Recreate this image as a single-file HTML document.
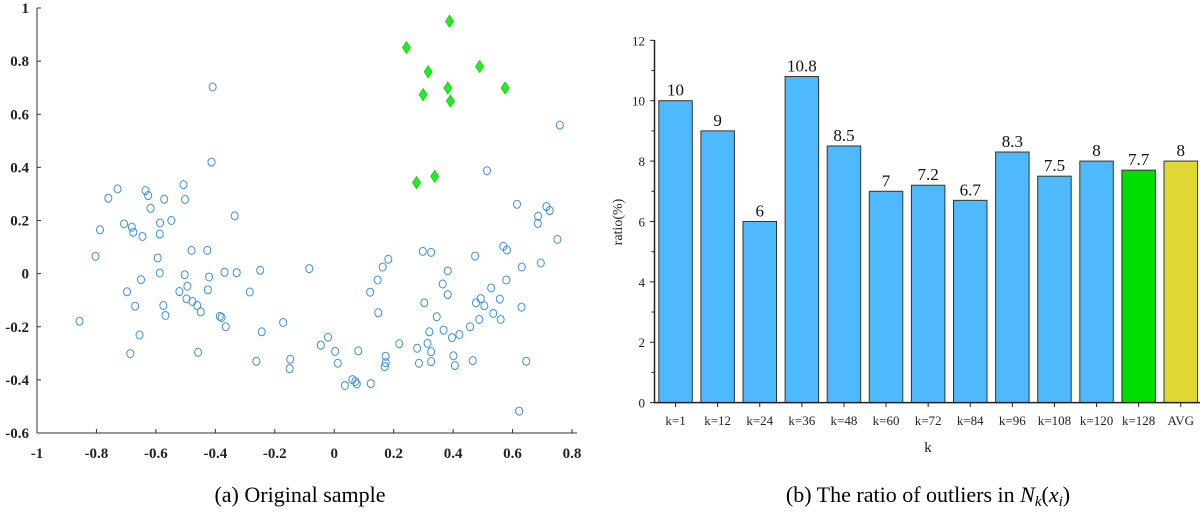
<!DOCTYPE html>
<html><head><meta charset="utf-8"><style>
html,body{margin:0;padding:0;background:#fff;}
svg, svg text{font-family:"Liberation Serif","Times New Roman","DejaVu Serif",serif;}
</style></head><body>
<svg id="fig" width="1200" height="515" viewBox="0 0 1200 515" xmlns="http://www.w3.org/2000/svg" font-family="Liberation Serif, Times New Roman, serif">
<g id="scatter"></g>
<g id="bars"></g>
<text x="300" y="502" font-size="22" text-anchor="middle">(a) Original sample</text>
<text x="928" y="502" font-size="22" text-anchor="middle">(b) The ratio of outliers in <tspan font-style="italic">N</tspan><tspan font-style="italic" font-size="15" dy="4">k</tspan><tspan dy="-4">(</tspan><tspan font-style="italic">x</tspan><tspan font-style="italic" font-size="15" dy="4">i</tspan><tspan dy="-4">)</tspan></text>
</svg>
<script>
const NS="http://www.w3.org/2000/svg";
const normalX=[-0.857,-0.803,-0.788,-0.76,-0.729,-0.707,-0.681,-0.676,-0.697,-0.686,-0.67,-0.655,-0.65,-0.645,-0.635,-0.626,-0.618,-0.594,-0.587,-0.587,-0.586,-0.575,-0.572,-0.568,-0.548,-0.521,-0.507,-0.503,-0.502,-0.497,-0.494,-0.48,-0.477,-0.461,-0.458,-0.449,-0.427,-0.425,-0.421,-0.413,-0.409,-0.385,-0.379,-0.369,-0.365,-0.335,-0.328,-0.284,-0.262,-0.249,-0.244,-0.172,-0.148,-0.15,-0.084,-0.045,-0.021,0.003,0.012,0.036,0.061,0.071,0.076,0.081,0.123,0.121,0.146,0.148,0.163,0.17,0.173,0.173,0.182,0.219,0.279,0.285,0.298,0.303,0.314,0.32,0.326,0.326,0.326,0.345,0.365,0.368,0.382,0.382,0.396,0.401,0.406,0.421,0.457,0.466,0.474,0.477,0.488,0.493,0.505,0.514,0.528,0.535,0.557,0.56,0.569,0.581,0.579,0.615,0.622,0.631,0.63,0.646,0.685,0.686,0.695,0.714,0.725,0.751,0.759];
const normalY=[-0.179,0.065,0.165,0.284,0.319,0.1875,0.175,0.156,-0.068,-0.301,-0.1225,-0.231,-0.0225,0.14,0.3125,0.294,0.246,0.059,0.0025,0.149,0.191,-0.12,0.28,-0.1575,0.2,-0.0675,0.335,-0.004,0.279,-0.095,-0.0475,0.0875,-0.105,-0.12,-0.296,-0.144,0.0875,-0.061,-0.0125,0.42,0.7025,-0.161,-0.165,0.005,-0.2,0.2175,0.004,-0.069,-0.33,0.0125,-0.219,-0.184,-0.3225,-0.3575,0.019,-0.269,-0.239,-0.2925,-0.3375,-0.421,-0.399,-0.406,-0.415,-0.291,-0.414,-0.07,-0.024,-0.1475,0.025,-0.35,-0.311,-0.335,0.054,-0.264,-0.281,-0.3375,0.084,-0.11,-0.2625,-0.219,0.08,-0.294,-0.331,-0.1625,-0.039,-0.2125,0.01,-0.079,-0.241,-0.309,-0.346,-0.229,-0.2,-0.3275,0.066,-0.11,-0.1725,-0.094,-0.121,0.3875,-0.054,-0.15,-0.096,-0.1725,0.1025,0.089,-0.024,0.261,-0.5175,0.025,-0.126,-0.33,0.189,0.216,0.04,0.2525,0.2375,0.129,0.559];
const outlierX=[0.243,0.388,0.316,0.489,0.299,0.382,0.391,0.575,0.277,0.338];
const outlierY=[0.851,0.95,0.76,0.78,0.674,0.699,0.65,0.699,0.3425,0.366];
const scatterXTicks=[-1,-0.8,-0.6,-0.4,-0.2,0,0.2,0.4,0.6,0.8];
const scatterYTicks=[-0.6,-0.4,-0.2,0,0.2,0.4,0.6,0.8,1];

const categories=["k=1","k=12","k=24","k=36","k=48","k=60","k=72","k=84","k=96","k=108","k=120","k=128","AVG"];
const ratios=[10,9,6,10.8,8.5,7,7.2,6.7,8.3,7.5,8,7.7,8];
const ratioLabels=["10","9","6","10.8","8.5","7","7.2","6.7","8.3","7.5","8","7.7","8"];
const barYTicks=[0,2,4,6,8,10,12];

const FF="Liberation Serif, Times New Roman, serif";
function mk(tag,attrs,parent,text){const e=document.createElementNS(NS,tag);for(const k in attrs)e.setAttribute(k,attrs[k]);if(tag==='text')e.setAttribute('font-family',FF);if(text!==undefined)e.textContent=text;parent.appendChild(e);return e;}

// scatter
const sg=document.getElementById('scatter');
const sx=v=>37+(v+1)/1.8*535;
const sy=v=>433-(v+0.6)/1.6*425;
let ax=mk('line',{x1:37,y1:8,x2:37,y2:433,stroke:'#333','stroke-width':1},sg);

ax=mk('line',{x1:37,y1:433,x2:577,y2:433,stroke:'#333','stroke-width':1},sg);

scatterXTicks.forEach(t=>{
  const x=sx(t);
  const tk=mk('line',{x1:x,y1:433,x2:x,y2:429,stroke:'#333'},sg);
  
  const l=mk('text',{x:x,y:458,'font-size':15,'font-weight':'bold','text-anchor':'middle',fill:'#222'},sg,String(t));
  
});
scatterYTicks.forEach(t=>{
  const y=sy(t);
  const tk=mk('line',{x1:37,y1:y,x2:41,y2:y,stroke:'#333'},sg);
  
  const l=mk('text',{x:29,y:y+5,'font-size':15,'font-weight':'bold','text-anchor':'end',fill:'#222'},sg,String(t));
  
});
normalX.forEach((v,i)=>{
  const c=mk('ellipse',{cx:sx(v),cy:sy(normalY[i]),rx:3.5,ry:4,fill:'none',stroke:'#3d8fd8','stroke-width':1},sg);
  
});
outlierX.forEach((v,i)=>{
  const x=sx(v),y=sy(outlierY[i]);
  const d=mk('polygon',{points:`${x},${y-6} ${x+4},${y} ${x},${y+6} ${x-4},${y}`,fill:'#22ee22',stroke:'#11cc11','stroke-width':0.8},sg);
  
});

// bars
const bg=document.getElementById('bars');
const X0=654.5,band=42.1,bw=33.5;
const by=v=>402.6-v*30.19;
barYTicks.forEach(t=>{
  const y=by(t);
  const tk=mk('line',{x1:650,y1:y,x2:654.5,y2:y,stroke:'#222'},bg);
  
  const l=mk('text',{x:645,y:y+5,'font-size':13,'text-anchor':'end',fill:'#222'},bg,String(t));
  
  if(t<12){const m=mk('line',{x1:651.5,y1:by(t+1),x2:654.5,y2:by(t+1),stroke:'#222'},bg);
  }
});
categories.forEach((c,i)=>{
  const cx=X0+band*(i+0.5);
  const fill=c==='AVG'?'#e0d832':(c==='k=128'?'#00dd00':'#4fb9fd');
  const r=mk('rect',{x:cx-bw/2,y:by(ratios[i]),width:bw,height:by(0)-by(ratios[i]),fill:fill,stroke:'#333','stroke-width':1},bg);
  
  const v=mk('text',{x:cx,y:by(ratios[i])-5,'font-size':17,'text-anchor':'middle',fill:'#111'},bg,ratioLabels[i]);
  
  const tk=mk('line',{x1:cx,y1:402.6,x2:cx,y2:407,stroke:'#222'},bg);
  
  const l=mk('text',{x:cx,y:425,'font-size':13,'text-anchor':'middle',fill:'#222'},bg,c);
  
});
ax=mk('line',{x1:654.5,y1:40,x2:654.5,y2:403,stroke:'#222','stroke-width':1.5},bg);

ax=mk('line',{x1:654,y1:402.6,x2:1200,y2:402.6,stroke:'#222','stroke-width':1.5},bg);

let t=mk('text',{x:0,y:0,'font-size':14,'text-anchor':'middle',fill:'#222',transform:'translate(622,222) rotate(-90)'},bg,'ratio(%)');

t=mk('text',{x:928,y:452,'font-size':15,'text-anchor':'middle',fill:'#222'},bg,'k');

</script>
</body></html>
